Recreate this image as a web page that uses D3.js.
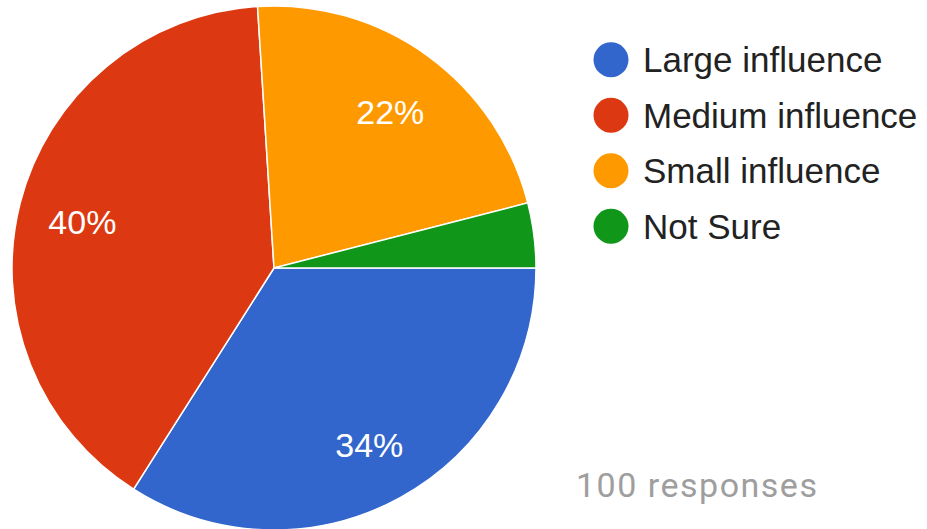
<!DOCTYPE html>
<html><head><meta charset="utf-8">
<script src="https://cdn.jsdelivr.net/npm/d3@7"></script>
<style>body{margin:0;background:#fff}svg{display:block}</style>
</head><body>
<svg id="c" width="927" height="529"></svg>
<script>
const categories = ["Large influence", "Medium influence", "Small influence", "Not Sure"];
const values = [34, 40, 22, 4];
const colors = ["#3366cc", "#dc3912", "#ff9900", "#109618"];
const footnote = "100 responses";

const svg = d3.select("#c");
const cx = 274, cy = 268, R = 262;
const data = categories.map((c, i) => ({name: c, value: values[i], color: colors[i]}));
const pie = d3.pie().value(d => d.value).sort(null)
  .startAngle(Math.PI / 2).endAngle(Math.PI / 2 + 2 * Math.PI);
const arcs = pie(data);
const arc = d3.arc().innerRadius(0).outerRadius(R);
const labelArc = d3.arc().innerRadius(R * 0.755).outerRadius(R * 0.755);
const totals = d3.sum(values);

const g = svg.append("g").attr("transform", `translate(${cx},${cy})`);
g.selectAll("path").data(arcs).join("path")
  .attr("d", arc).attr("fill", d => d.data.color)
  .attr("stroke", "#fff").attr("stroke-width", 1.5);

g.selectAll("text.lbl").data(arcs.filter(d => d.data.value / totals >= 0.05)).join("text")
  .attr("class", "lbl")
  .attr("transform", d => `translate(${labelArc.centroid(d)})`)
  .attr("text-anchor", "middle").attr("dy", "0.46em")
  .attr("fill", "#fff").attr("font-family", "Liberation Sans, Arial, sans-serif")
  .attr("font-size", 34)
  .text(d => Math.round(d.data.value / totals * 100) + "%");

const ly = d3.scaleBand().domain(categories).range([32, 254]);
const lg = svg.append("g");
const rows = lg.selectAll("g").data(data).join("g")
  .attr("transform", d => `translate(611,${ly(d.name) + ly.bandwidth() / 2})`);
rows.append("circle").attr("r", 17.5).attr("fill", d => d.color);
rows.append("text").attr("x", 32).attr("dy", "0.36em")
  .attr("fill", "#222").attr("font-family", "Liberation Sans, Arial, sans-serif")
  .attr("font-size", 35).text(d => d.name);

svg.append("text").attr("x", 576).attr("y", 497)
  .attr("fill", "#9e9e9e").attr("font-family", "Roboto, sans-serif")
  .attr("font-size", 34).attr("letter-spacing", 1.5).text(footnote);
</script>
</body></html>
